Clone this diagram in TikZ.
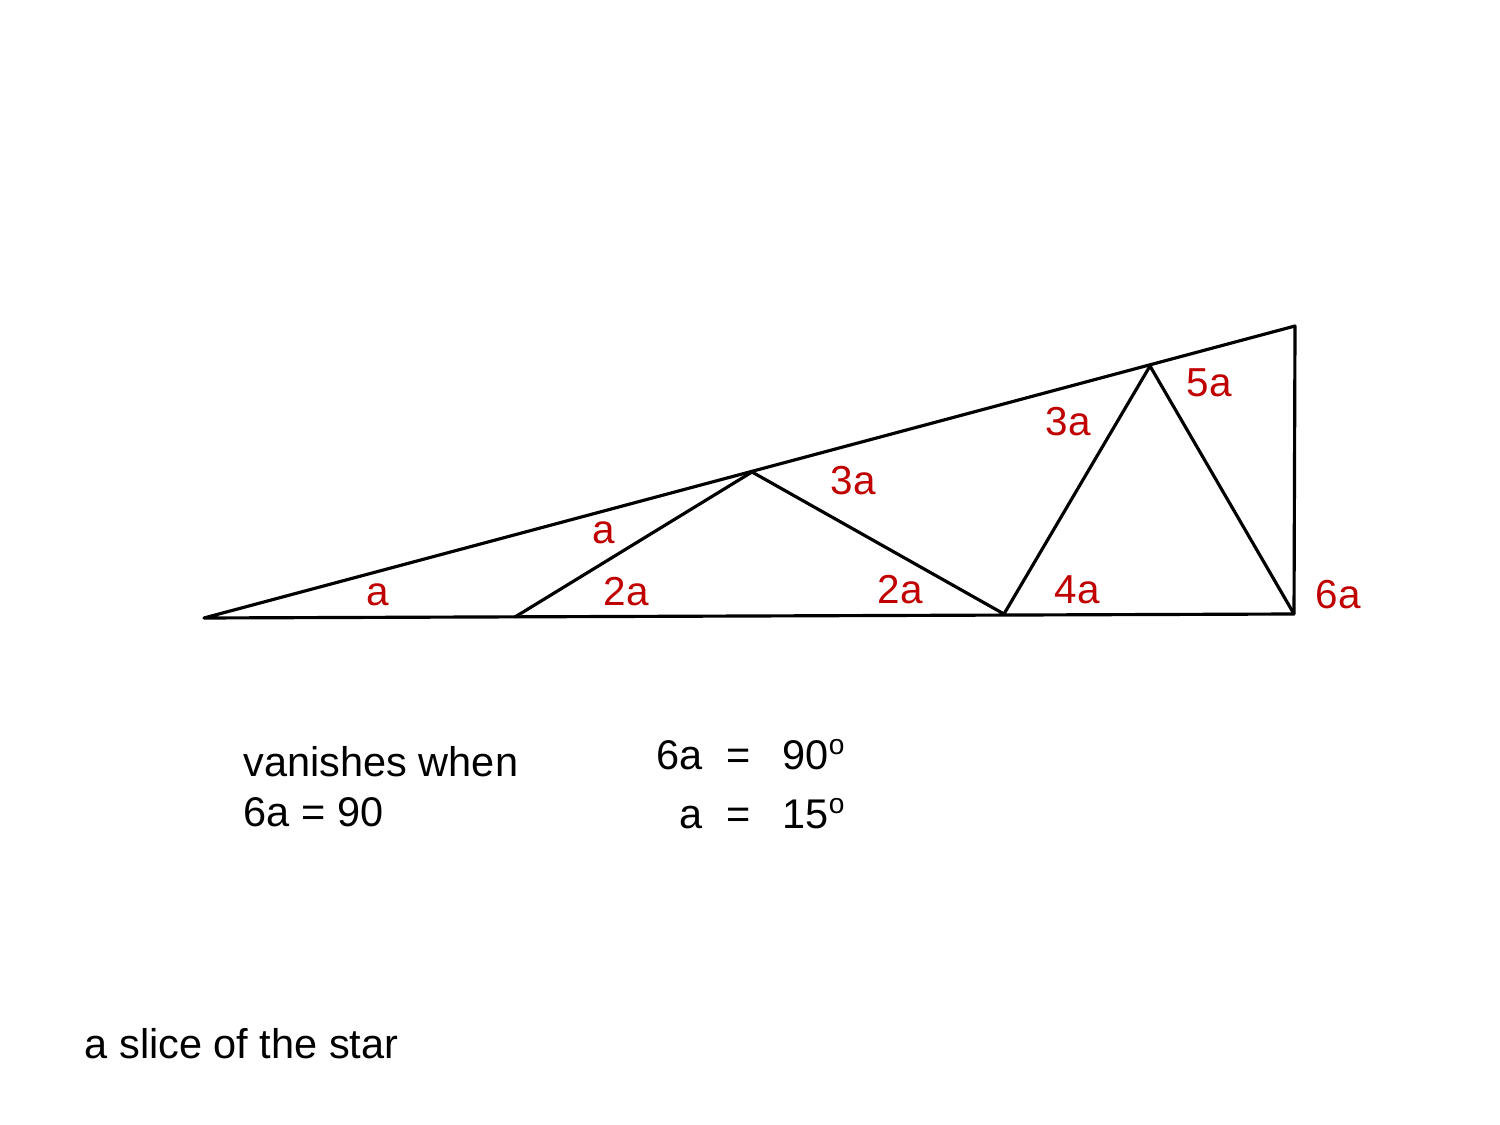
\documentclass[tikz,border=0pt]{standalone}
\usepackage{fontspec}
\setmainfont{Liberation Sans}
\definecolor{lblred}{HTML}{C00000}
\newcommand{\degsup}{{\fontsize{8pt}{8pt}\selectfont\raisebox{4.2pt}{o}}}
\begin{document}
\begin{tikzpicture}[x=0.01cm,y=-0.01cm,
  edge/.style={line width=0.9pt,line join=round,line cap=round},
  ang/.style={text=lblred,font=\fontsize{11.5pt}{13pt}\selectfont,inner sep=0pt},
  txt/.style={font=\fontsize{11.8pt}{13pt}\selectfont,inner sep=0pt,anchor=base west}]
\useasboundingbox (0,0) rectangle (1500,1125);
\coordinate (A) at (204,618);
\coordinate (B) at (515,617);
\coordinate (C) at (752,472);
\coordinate (D) at (1004,614);
\coordinate (E) at (1150,366);
\coordinate (F) at (1294,614);
\coordinate (G) at (1295,326);
\draw[edge] (A) -- (G) -- (F) -- (A);
\draw[edge] (B) -- (C) -- (D) -- (E) -- (F);
\node[ang] (l1) at (378,595) {a};
\node[ang] (l2) at (604,533) {a};
\node[ang] (l3) at (626,592) {2a};
\node[ang] (l4) at (853,481) {3a};
\node[ang] (l5) at (900,590) {2a};
\node[ang] (l6) at (1068,422) {3a};
\node[ang] (l7) at (1077,590) {4a};
\node[ang] (l8) at (1209,383) {5a};
\node[ang] (l9) at (1338,595) {6a};
\node[txt] (t1) at (243,777) {vanishes when};
\node[txt] (t2) at (243,827) {6a = 90};
\node[txt,anchor=base east] (e1l) at (703,769) {6a};
\node[txt,anchor=base] (e1m) at (739,769) {=};
\node[txt] (e1r) at (782,769) {90\degsup};
\node[txt,anchor=base east] (e2l) at (703,828) {a};
\node[txt,anchor=base] (e2m) at (739,828) {=};
\node[txt] (e2r) at (782,828) {15\degsup};
\node[txt] (t3) at (84,1058) {a slice of the star};
\end{tikzpicture}
\end{document}
